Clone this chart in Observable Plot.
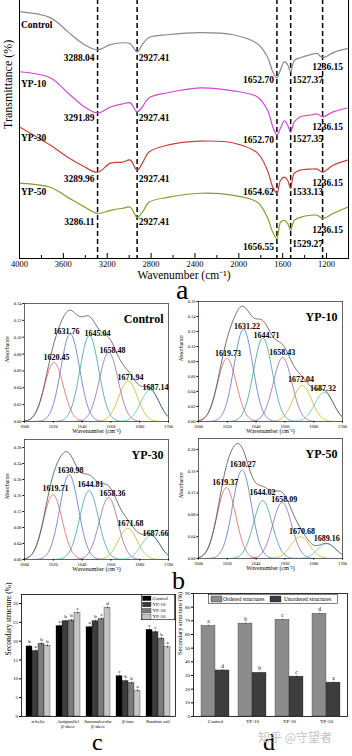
<!DOCTYPE html>
<html><head><meta charset="utf-8">
<script src="https://cdn.jsdelivr.net/npm/d3@7"></script>
<script src="https://cdn.jsdelivr.net/npm/@observablehq/plot@0.6"></script>
<style>
body{margin:0;background:#fff;}
#root{position:relative;width:352px;height:756px;overflow:hidden;background:#fff;font-family:"Liberation Serif",serif;}
.letter{font-family:"Liberation Serif",serif;color:#000;white-space:nowrap;}
</style></head><body><div id="root"></div>
<script>
// ===== Panel a: FTIR spectra =====
const ftirSeries = ["Control","YP-10","YP-30","YP-50"];
const ftirColors = ["#8a8a8a","#d04ad0","#c8413a","#8a9a2e"];
const ftirWavenumbers = [4000,3720,3560,3420,3290,3170,3060,2990,2927,2880,2820,2650,2350,2050,1830,1740,1690,1653,1620,1585,1555,1528,1495,1440,1345,1285,1236,1140,1010];
const ftirControl = [95.3,93.0,87.6,82.9,80.6,82.6,83.3,82.9,79.8,82.6,85.3,86.4,87.2,86.4,82.9,77.9,72.1,69.8,72.9,76.0,74.8,72.1,76.4,77.5,78.7,79.1,77.5,79.5,81.0];
const ftirYP10 = [72.1,69.8,64.0,58.9,56.2,58.5,59.7,60.1,56.6,58.5,62.0,64.0,65.9,64.7,62.4,57.4,50.8,47.7,50.4,53.1,51.5,48.8,52.7,54.7,55.4,55.8,54.7,56.6,58.1];
const ftirYP30 = [50.8,43.8,39.1,35.7,33.3,36.8,37.2,38.0,34.1,36.8,41.1,43.8,45.3,44.6,40.7,34.1,27.5,25.2,30.2,31.4,30.2,27.1,32.9,34.1,34.5,34.5,33.3,36.0,38.0];
const ftirYP50 = [29.1,27.5,23.6,20.2,17.4,18.6,19.4,19.8,15.9,17.8,21.7,23.6,25.2,24.4,21.7,15.9,10.1,7.8,14.0,14.7,13.6,10.9,14.7,15.9,16.7,16.7,15.5,17.4,19.8];
const dashWavenumbers = [3288.04,2927.41,1652.70,1527.37,1236.15];
const ftirLabelText = [
 "3288.04","2927.41","1652.70","1527.37","1236.15",
 "3291.89","2927.41","1652.70","1527.35","1236.15",
 "3289.96","2927.41","1654.62","1533.13","1236.15",
 "3286.11","2927.41","1656.55","1529.27","1236.15"];
const ftirLabelT = [
 77.5,77.5,69.0,69.0,74.0,
 54.3,54.3,45.7,46.1,50.8,
 30.6,30.6,25.6,25.6,29.1,
 14.3,14.3,4.3,5.8,10.9];
const ftirSeriesLabelT = [90.3,67.4,46.5,25.6];
const ftirMajorTicks = [4000,3600,3200,2800,2400,2000,1600,1200];
const ftirMinorTicks = [3800,3400,3000,2600,2200,1800,1400,1000];

// ===== Panel b: deconvolution (Gaussian components) =====
const componentColors = ["#e06464","#5a72c8","#3aa58c","#9a62b8","#c8b428","#5cc4cc"];
const controlCenters = [1620.45,1631.76,1645.04,1658.48,1671.94,1687.14];
const controlHeights = [0.070,0.104,0.102,0.082,0.048,0.037];
const controlWidths  = [6.5,6.5,6.5,6.5,6.5,6.5];
const controlLabelX  = [1622.2,1629.2,1650.7,1661.1,1673.6,1691.0];
const controlLabelY  = [0.076,0.107,0.104,0.084,0.052,0.040];
const yp10Centers = [1619.73,1631.22,1644.71,1658.43,1672.04,1687.32];
const yp10Heights = [0.084,0.123,0.111,0.085,0.048,0.039];
const yp10Widths  = [6.5,6.5,6.5,6.5,6.5,6.5];
const yp10LabelX  = [1620.5,1633.6,1647.3,1658.2,1671.2,1686.5];
const yp10LabelY  = [0.091,0.127,0.115,0.092,0.056,0.044];
const yp30Centers = [1619.71,1630.98,1644.81,1658.36,1671.68,1687.66];
const yp30Heights = [0.162,0.212,0.172,0.155,0.078,0.060];
const yp30Widths  = [6.5,6.5,6.5,6.5,6.5,6.5];
const yp30LabelX  = [1621.5,1631.9,1645.8,1661.1,1673.6,1691.0];
const yp30LabelY  = [0.1775,0.2225,0.1875,0.165,0.090,0.065];
const yp50Centers = [1619.37,1630.27,1644.62,1658.09,1670.68,1689.16];
const yp50Heights = [0.130,0.162,0.106,0.103,0.040,0.027];
const yp50Widths  = [6.5,6.5,6.5,6.5,6.5,6.5];
const yp50LabelX  = [1618.5,1630.8,1644.5,1659.6,1671.9,1689.0];
const yp50LabelY  = [0.140,0.172,0.122,0.109,0.050,0.037];

// ===== Panel c: secondary structure =====
const structureNames = ["α-helix","Antiparallel\nβ-sheet","Intramolecular\nβ-sheet","β-turn","Random coil"];
const sampleNames = ["Control","YP-10","YP-30","YP-50"];
const sampleColors = ["#000000","#3c3c3c","#7c7c7c","#c4c4c4"];
const structControl = [18.6,24.0,23.7,10.7,23.0];
const structYP10    = [17.4,25.3,25.3,9.4,22.4];
const structYP30    = [19.3,25.5,25.9,8.9,20.7];
const structYP50    = [18.8,27.5,28.9,6.8,18.4];
const structErr     = [0.3,0.3,0.3,0.3,0.3];
const lettersControl = ["b","a","a","c","c"];
const lettersYP10    = ["a","b","b","b","c"];
const lettersYP30    = ["b","b","c","b","b"];
const lettersYP50    = ["b","c","d","a","a"];

// ===== Panel d: ordered / unordered =====
const orderNames = ["Ordered structures","Unordered structures"];
const orderColors = ["#8c8c8c","#3d3d3d"];
const orderedValues = [66.3,68.0,70.8,75.2];
const unorderedValues = [33.7,32.0,29.2,24.8];
const orderedLetters = ["a","b","c","d"];
const unorderedLetters = ["d","b","c","a"];
const orderErr = [0.4,0.4,0.4,0.4];

// ---------- helpers ----------
const root = document.getElementById("root");
const SERIF = "'Liberation Serif','Times New Roman',serif";
const baseStyle = {background:"transparent", overflow:"visible", fontFamily:SERIF, color:"#000"};
function put(node, left, top){ node.style.position="absolute"; node.style.left=left+"px"; node.style.top=top+"px"; root.appendChild(node); return node; }
function letter(ch, left, top, size, lh){
  const d = document.createElement("div");
  d.className = "letter"; d.textContent = ch; d.style.fontSize = size+"px"; d.style.lineHeight = lh+"px"; d.style.height = lh+"px";
  return put(d, left, top);
}

// ---------- Panel a ----------
const ftirValues = [ftirControl, ftirYP10, ftirYP30, ftirYP50];
const ftirData = ftirSeries.flatMap((s,i)=>ftirWavenumbers.map((wn,j)=>({series:s, wn, T:ftirValues[i][j]})));
const ftirLabels = ftirLabelText.map((text,i)=>({text, wn:dashWavenumbers[i%5], T:ftirLabelT[i], kind:i%5}));
const ftirNameLabels = ftirSeries.map((s,i)=>({text:s, wn:4000, T:ftirSeriesLabelT[i]}));
const aH = 290, aMT = 2, aMB = 29, aInner = aH-aMT-aMB;
const labelStyle = {fontSize:9.5, fontWeight:"bold", fill:"#000"};
const plotA = Plot.plot({
  width:352, height:aH, marginLeft:19, marginRight:4, marginTop:aMT, marginBottom:aMB,
  style:baseStyle,
  x:{domain:[4000,1000]},
  y:{domain:[0,100], axis:null},
  color:{domain:ftirSeries, range:ftirColors},
  marks:[
    Plot.ruleX(dashWavenumbers, {stroke:"#000", strokeWidth:1.5, strokeDasharray:"5,3"}),
    Plot.line(ftirData, {x:"wn", y:"T", z:"series", stroke:"series", strokeWidth:1.2, curve:"catmull-rom"}),
    Plot.frame({stroke:"#000", strokeWidth:1}),
    Plot.tickX(ftirMajorTicks, {x:d=>d, insetTop:aInner-5, stroke:"#000"}),
    Plot.tickX(ftirMinorTicks, {x:d=>d, insetTop:aInner-3, stroke:"#000"}),
    Plot.axisX({ticks:ftirMajorTicks, tickSize:0, tickPadding:2.5, fontSize:8.5, tickFormat:d=>String(d), label:null}),
    Plot.text(ftirLabels.filter(d=>d.kind===0||d.kind===2), {x:"wn", y:"T", text:"text", textAnchor:"end", dx:-3, ...labelStyle}),
    Plot.text(ftirLabels.filter(d=>d.kind===1||d.kind===3), {x:"wn", y:"T", text:"text", textAnchor:"start", dx:1.5, ...labelStyle}),
    Plot.text(ftirLabels.filter(d=>d.kind===4), {x:"wn", y:"T", text:"text", textAnchor:"middle", dx:5, ...labelStyle}),
    Plot.text(ftirNameLabels, {x:"wn", y:"T", text:"text", textAnchor:"start", dx:1.5, ...labelStyle}),
    Plot.text(["Wavenumber (cm⁻¹)"], {frameAnchor:"bottom", dy:20, fontSize:11.5}),
    Plot.text(["Transmittance (%)"], {frameAnchor:"left", rotate:-90, dx:-11, fontSize:12})
  ]
});
put(plotA, 0, -3);
letter("a", 176, 274, 28, 31);

// ---------- Panel b ----------
function decon(title, centers, heights, widths, labelX, labelY, yMax, yStep, innerH){
  const grid = d3.range(1600, 1700.001, 0.5);
  const g = (x,i)=>heights[i]*Math.exp(-((x-centers[i])**2)/(2*widths[i]**2));
  const comps = centers.flatMap((c,i)=>grid.map(x=>({comp:i, x, y:g(x,i), color:componentColors[i]})));
  const env = grid.map(x=>({x, y:d3.sum(centers,(c,i)=>g(x,i))}));
  const peaks = centers.map((c,i)=>({x:labelX[i], y:labelY[i], label:c.toFixed(2)}));
  const mT = 8, mB = 19;
  return Plot.plot({
    width:172, height:mT+innerH+mB, marginLeft:24, marginRight:4, marginTop:mT, marginBottom:mB,
    style:baseStyle,
    x:{domain:[1600,1700]},
    y:{domain:[0,yMax]},
    marks:[
      Plot.line(comps, {x:"x", y:"y", z:"comp", stroke:"color", strokeWidth:0.8, clip:true}),
      Plot.line(env, {x:"x", y:"y", stroke:"#4a4a4a", strokeWidth:0.8, clip:true}),
      Plot.frame({stroke:"#222", strokeWidth:0.7}),
      Plot.text(peaks, {x:"x", y:"y", text:"label", fontSize:8, fontWeight:"bold"}),
      Plot.text([title], {frameAnchor:"top-right", dx:-5, dy:11, fontSize:12, fontWeight:"bold"}),
      Plot.axisX({ticks:d3.range(1600,1701,20), tickSize:1.5, tickPadding:1.5, fontSize:4.5, tickFormat:d=>String(d), label:null}),
      Plot.axisY({ticks:d3.range(0, yMax+1e-9, yStep), tickSize:1.5, tickPadding:1.5, fontSize:4.5, tickFormat:d3.format(".2f"), label:null}),
      Plot.text(["Wavenumber (cm⁻¹)"], {frameAnchor:"bottom", dy:11, fontSize:6}),
      Plot.text(["Absorbance"], {frameAnchor:"left", rotate:-90, dx:-17, fontSize:5.5})
    ]
  });
}
put(decon("Control", controlCenters, controlHeights, controlWidths, controlLabelX, controlLabelY, 0.14, 0.02, 118), 0, 295);
put(decon("YP-10", yp10Centers, yp10Heights, yp10Widths, yp10LabelX, yp10LabelY, 0.16, 0.02, 120), 174, 293);
put(decon("YP-30", yp30Centers, yp30Heights, yp30Widths, yp30LabelX, yp30LabelY, 0.30, 0.04, 120), 0, 431);
put(decon("YP-50", yp50Centers, yp50Heights, yp50Widths, yp50LabelX, yp50LabelY, 0.22, 0.04, 120), 174, 430);
letter("b", 172, 566, 26, 29);

// ---------- Panel c ----------
const structVals = [structControl, structYP10, structYP30, structYP50];
const structLetters = [lettersControl, lettersYP10, lettersYP30, lettersYP50];
const structData = sampleNames.flatMap((s,i)=>structureNames.map((st,j)=>({sample:s, structure:st, value:structVals[i][j], err:structErr[j], letter:structLetters[i][j]})));
const cDims = {width:180, height:150, marginLeft:21, marginRight:5, marginTop:9, marginBottom:19};
const plotCframe = Plot.plot({
  ...cDims, style:baseStyle,
  x:{domain:[0,1], axis:null},
  y:{domain:[0,32.4]},
  marks:[
    Plot.frame({stroke:"#000", strokeWidth:0.8}),
    Plot.axisY({ticks:[0,5,10,15,20,25,30], tickSize:2, tickPadding:1.5, fontSize:5, label:null}),
    Plot.text(["Secondary structure (%)"], {frameAnchor:"left", rotate:-90, dx:-13, fontSize:7.5})
  ]
});
const plotCbars = Plot.plot({
  ...cDims, style:baseStyle,
  fx:{domain:structureNames, paddingInner:0.16, paddingOuter:0.07, label:null},
  x:{domain:sampleNames, padding:0.04, axis:null},
  y:{domain:[0,32.4], axis:null},
  color:{domain:sampleNames, range:sampleColors},
  marks:[
    Plot.barY(structData, {fx:"structure", x:"sample", y:"value", fill:"sample", stroke:"#000", strokeWidth:0.3}),
    Plot.ruleX(structData, {fx:"structure", x:"sample", y1:d=>d.value-d.err, y2:d=>d.value+d.err, stroke:"#000", strokeWidth:0.5}),
    Plot.text(structData, {fx:"structure", x:"sample", y:d=>d.value+d.err, text:"letter", dy:-3.5, fontSize:5}),
    Plot.axisFx({anchor:"bottom", tickSize:0, tickPadding:3, fontSize:4.6, lineHeight:1.1, label:null})
  ]
});
put(plotCframe, 0, 585);
put(plotCbars, 0, 585);
letter("c", 92, 729, 24, 26.5);

// ---------- Panel d ----------
const orderData = sampleNames.flatMap((s,i)=>[
  {sample:s, kind:orderNames[0], value:orderedValues[i], err:orderErr[i], letter:orderedLetters[i]},
  {sample:s, kind:orderNames[1], value:unorderedValues[i], err:orderErr[i], letter:unorderedLetters[i]}
]);
const dDims = {width:176, height:150, marginLeft:17, marginRight:5, marginTop:8, marginBottom:19};
const plotDframe = Plot.plot({
  ...dDims, style:baseStyle,
  x:{domain:[0,1], axis:null},
  y:{domain:[0,90]},
  marks:[
    Plot.frame({stroke:"#000", strokeWidth:0.8}),
    Plot.axisY({ticks:d3.range(0,91,10), tickSize:2, tickPadding:1.5, fontSize:5, label:null}),
    Plot.text(["Secondary structure (%)"], {frameAnchor:"left", rotate:-90, dx:-14, fontSize:6.5})
  ]
});
const plotDbars = Plot.plot({
  ...dDims, style:baseStyle,
  fx:{domain:sampleNames, paddingInner:0.19, paddingOuter:0.16, label:null},
  x:{domain:orderNames, padding:0.02, axis:null},
  y:{domain:[0,90], axis:null},
  color:{domain:orderNames, range:orderColors},
  marks:[
    Plot.barY(orderData, {fx:"sample", x:"kind", y:"value", fill:"kind", stroke:"#222", strokeWidth:0.3}),
    Plot.ruleX(orderData, {fx:"sample", x:"kind", y1:d=>d.value-d.err, y2:d=>d.value+d.err, stroke:"#000", strokeWidth:0.5}),
    Plot.text(orderData, {fx:"sample", x:"kind", y:d=>d.value+d.err, text:"letter", dy:-4, fontSize:5.5}),
    Plot.axisFx({anchor:"bottom", tickSize:0, tickPadding:3, fontSize:5, label:null})
  ]
});
put(plotDframe, 176, 585);
put(plotDbars, 176, 585);
letter("d", 263, 729, 24, 26.5);

// ---------- legends ----------
function makeLegendC(){
  const svg = d3.create("svg").attr("width",34).attr("height",26).style("font-family",SERIF).style("overflow","visible");
  svg.append("rect").attr("x",0.3).attr("y",0.3).attr("width",33.4).attr("height",25.4).attr("fill","#fff").attr("stroke","#000").attr("stroke-width",0.6);
  sampleNames.forEach((s,i)=>{
    const y = 2 + i*6.2;
    svg.append("rect").attr("x",1.5).attr("y",y).attr("width",8.5).attr("height",4.6).attr("fill",sampleColors[i]).attr("stroke","#000").attr("stroke-width",0.3);
    svg.append("text").attr("x",11.5).attr("y",y+2.3).attr("dominant-baseline","central").attr("font-size",5).text(s);
  });
  return svg.node();
}
put(makeLegendC(), 141, 594);
function makeLegendD(){
  const svg = d3.create("svg").attr("width",130).attr("height",10).style("font-family",SERIF).style("overflow","visible");
  svg.append("rect").attr("x",0.3).attr("y",0.3).attr("width",129.4).attr("height",9.4).attr("fill","#fff").attr("stroke","#000").attr("stroke-width",0.5);
  const pos = [[3,15],[62,76]];
  orderNames.forEach((s,i)=>{
    svg.append("rect").attr("x",pos[i][0]).attr("y",2).attr("width",11).attr("height",6).attr("fill",orderColors[i]).attr("stroke","#000").attr("stroke-width",0.3);
    svg.append("text").attr("x",pos[i][1]).attr("y",5).attr("dominant-baseline","central").attr("font-size",5.6).text(s);
  });
  return svg.node();
}
put(makeLegendD(), 208, 594);

// watermark
const wm = document.createElement("div");
wm.textContent = "知乎 @守望者";
Object.assign(wm.style, {font:"12px 'Noto Sans CJK SC',sans-serif", color:"#c4c4c4", whiteSpace:"nowrap", lineHeight:"13px", height:"13px"});
put(wm, 258, 730);
</script>
</body></html>
